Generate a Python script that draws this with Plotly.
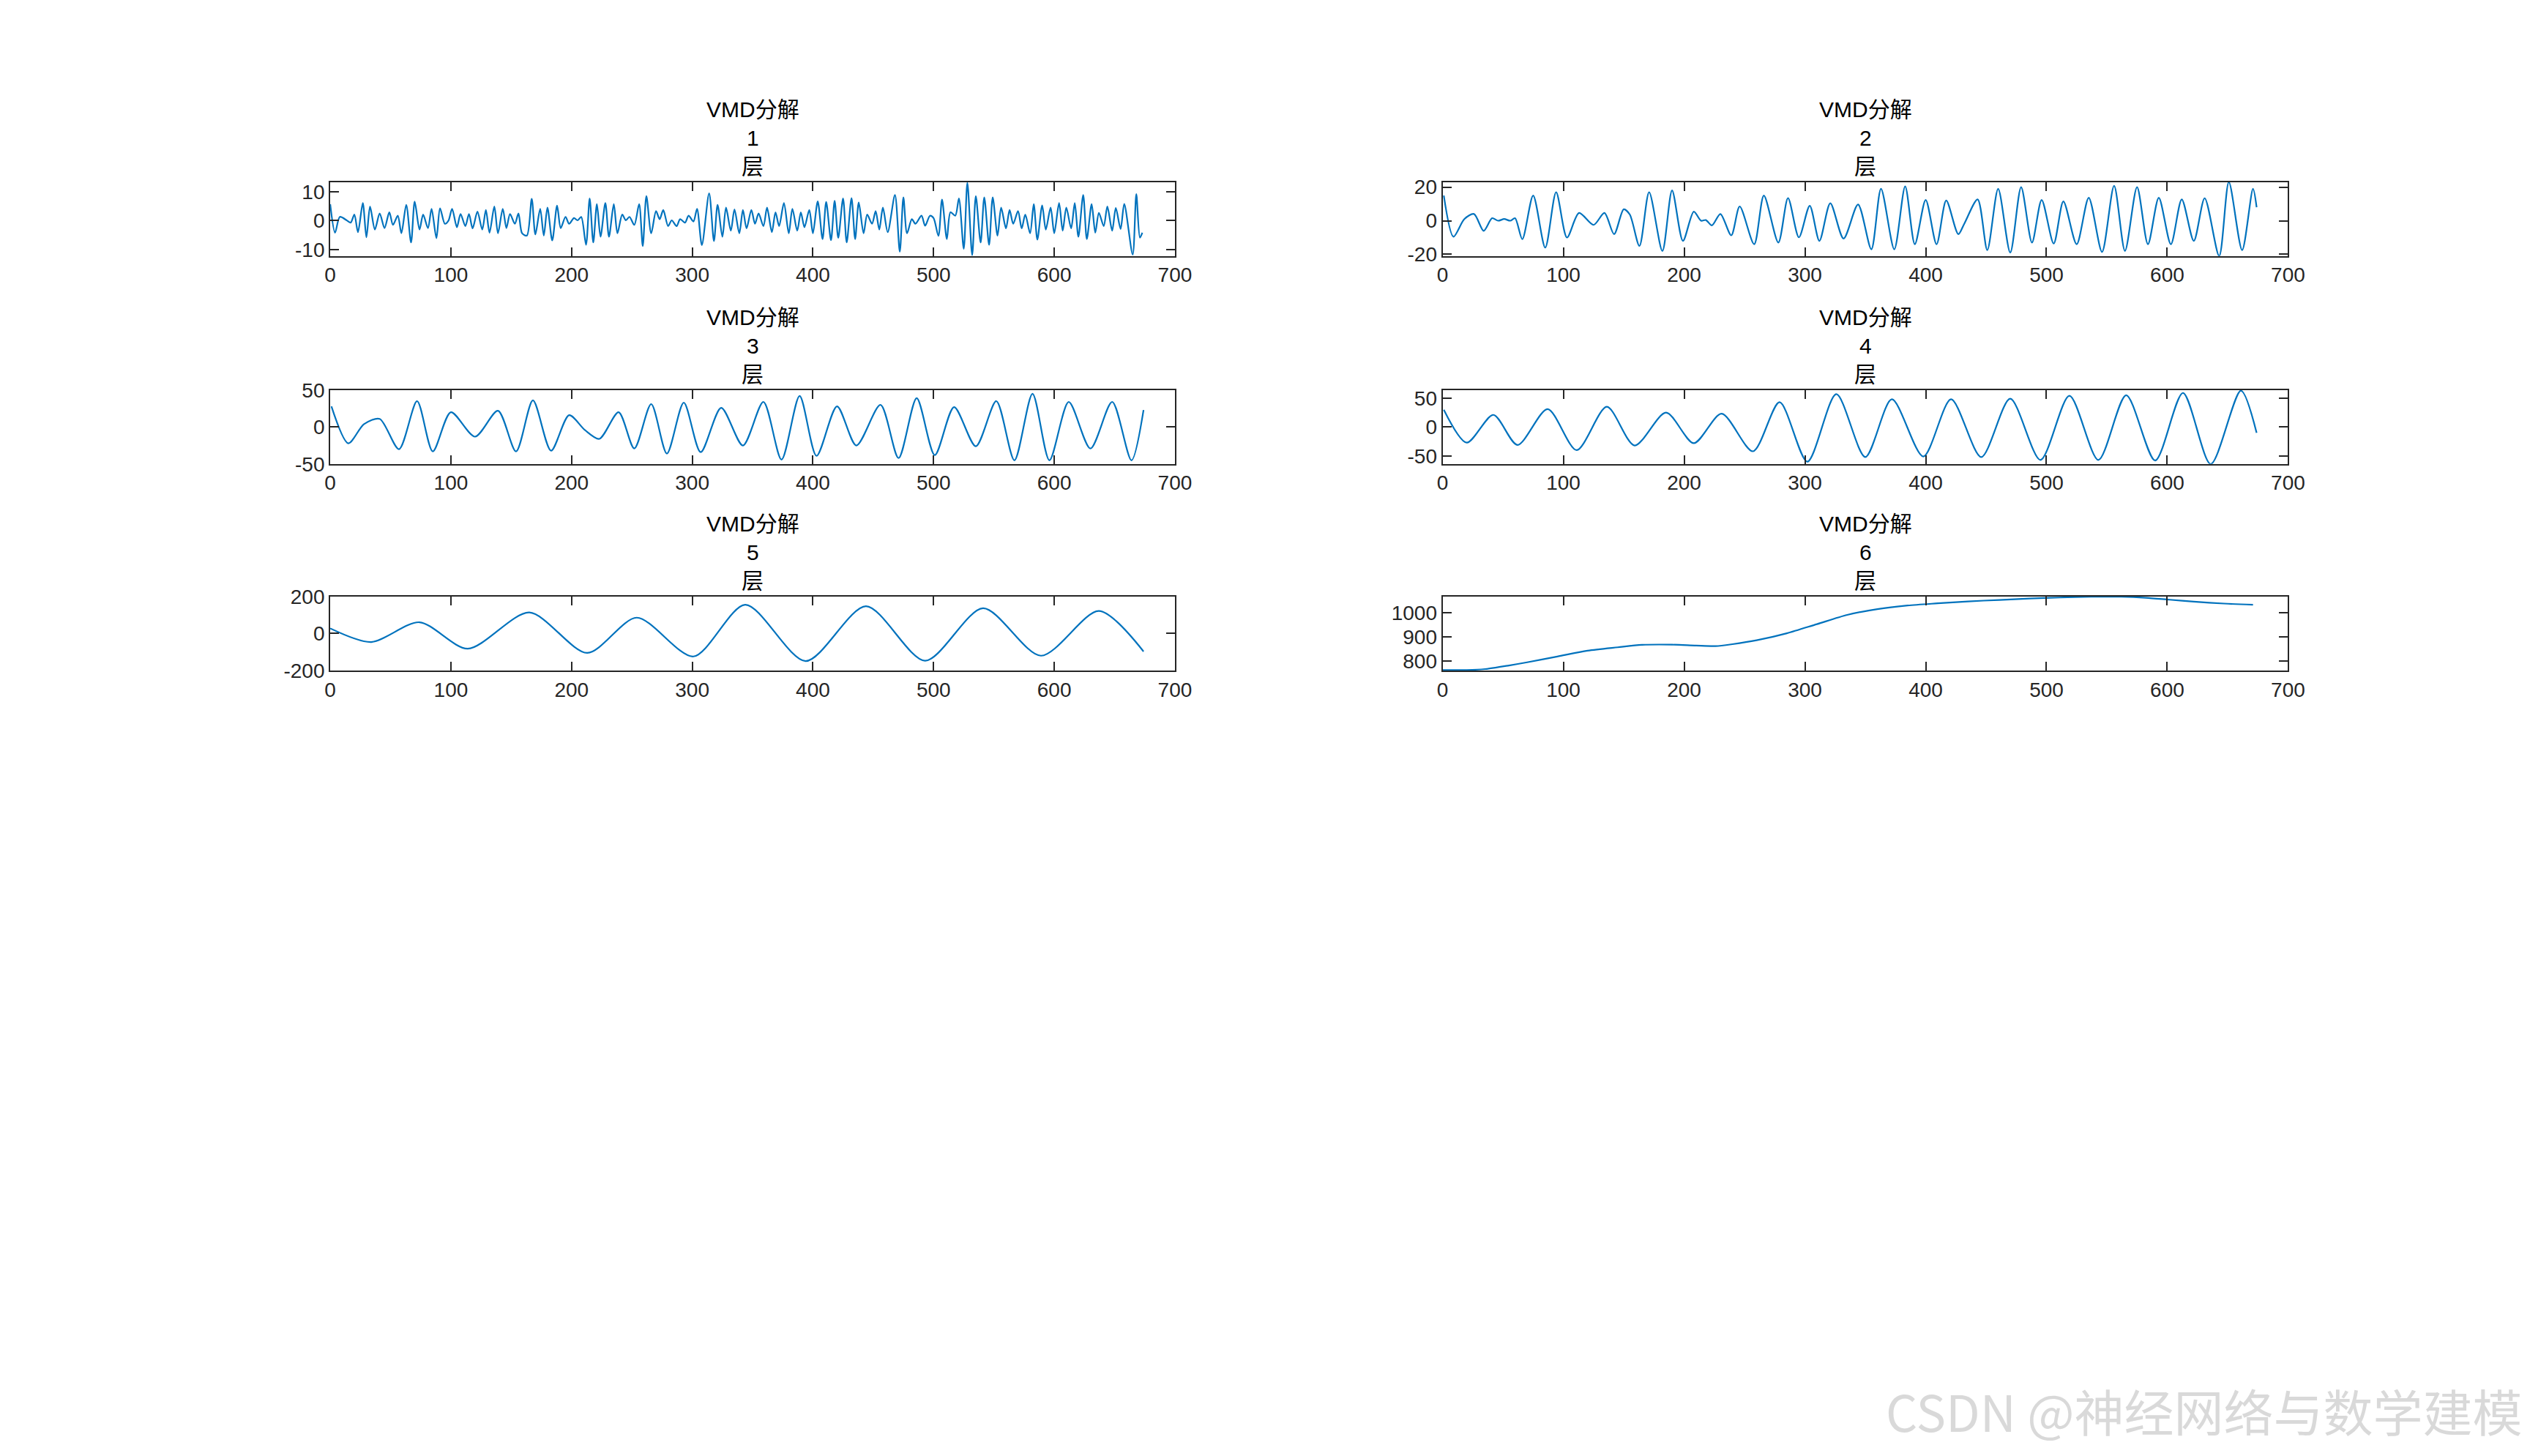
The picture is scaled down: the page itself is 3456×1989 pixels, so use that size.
import plotly.graph_objects as go
from plotly.subplots import make_subplots

# ---- data (extrema / key points) ----
imf1_x = [0,4,8,14,17,20,23,27,30,33,37,41,45,49,52,56,59,63,67,70,74,77,81,84,88,91,95,98,101,105,108,112,115,118,122,126,129,132,136,139,143,146,149,153,156,159,163,167,170,174,177,180,184,188,191,195,198,202,205,208,212,215,218,221,224,228,231,235,238,242,245,248,252,256,259,262,266,270,273,276,280,283,287,290,294,297,301,304,308,314,318,321,325,328,332,335,339,342,345,349,352,355,359,362,366,369,372,376,380,383,387,390,393,397,400,404,408,411,415,418,421,425,428,432,435,438,442,445,449,452,455,458,462,468,472,475,478,482,485,490,493,497,500,504,507,511,514,518,521,525,528,532,535,539,542,546,549,553,556,560,563,566,570,573,576,580,583,586,590,593,597,600,604,607,610,614,617,620,624,627,631,634,637,641,644,648,651,655,658,665,668,671,673]
imf1_y = [5.7,-4.2,1.3,0,-0.7,2.1,-4,6.1,-5.8,4.9,-3.1,2.5,-2.6,2.9,-1.5,1.7,-4.4,5.5,-7.6,6.6,-3.1,2.1,-2.6,4.1,-6.1,4.3,-1.1,0,4.1,-2.3,2.3,-1.9,2.3,-2.7,3.1,-3.1,3.7,-4.2,4.9,-4.4,4.1,-2.6,2.3,-1.1,2.5,-4.4,-5.2,7.6,-4.8,4.1,-5.2,4.5,-6.9,5.2,-2.6,1.3,-1.1,0.9,0.1,1.3,-8.4,7.7,-7.6,5.7,-5.6,6.1,-5.6,5.7,-4.4,2.1,0.1,1.3,-1.5,5.7,-8.8,8.5,-4.4,3.3,0.5,3.7,-1.9,0.1,-1.9,0.5,-0.7,1.7,-0.3,4.1,-8.5,9.5,-7.1,5.5,-5.6,4.5,-3.5,3.9,-4.4,3.7,-2.7,3.7,-1.1,2.5,-1.9,4.5,-4.0,2.9,-1.9,6.1,-4.4,4.1,-3.5,2.9,-2.3,3.7,-4.4,6.7,-6.4,6.5,-6.8,6.9,-6.0,7.7,-7.6,7.8,-6.4,6.3,-4.4,2.1,-1.1,3.3,-3.1,4.5,-4.0,8.9,-10.8,8.1,-4.4,0.5,-1.1,1.7,-1.8,1.7,0.9,-5.3,7.3,-6.4,2.9,1.7,7.7,-9.8,13.2,-12,8.5,-7.6,8.1,-8.4,8.1,-5.2,4.5,-2.7,3.7,-1.1,3.3,-2.7,2.1,-4.4,5.7,-6.6,5.3,-3.1,4.5,-4.4,6.1,-3.5,4.5,-2.7,6.1,-5.6,8.9,-6.4,5.7,-4.2,2.7,-1.9,4.9,-3.5,4.4,-2.9,5.8,-11.8,9.2,-5.9,-4.2]

imf2_x = [1,9,18,26,34,41,46,51,56,60,66,75,85,94,103,113,125,134,142,150,155,163,171,182,190,199,208,214,218,223,230,239,246,258,266,278,286,295,304,312,321,332,344,355,363,374,383,391,400,409,417,427,432,443,451,460,470,479,488,496,506,514,525,535,546,556,565,575,584,593,603,612,622,631,643,651,662,671,674]
imf2_y = [15,-9.5,1,4,-6,1.5,0,1,0,1.5,-11,15,-16,17,-10,4.6,-2.5,4.6,-8,6.8,3.7,-15,17,-18,18,-12,5.4,0,0.4,-2.8,4,-8.7,8.5,-14,15,-13,13.5,-9.9,8.9,-12,10.4,-10.6,9.6,-17,19,-17,20.4,-14,12.4,-14,12,-8,-1.7,12.7,-17.5,19,-19,20,-13,12.4,-13.6,11.5,-14,13.7,-18.6,20.8,-18,20,-14,13.7,-14,12.7,-12,13.4,-21,23,-17.5,19,8]

imf3_x = [1,15,28,41,57,72,85,100,120,139,154,168,183,198,211,223,239,252,266,279,293,307,324,342,359,374,389,403,420,436,456,471,486,501,517,535,552,567,582,596,612,630,648,664,674]
imf3_y = [28,-22,4,11,-30,35,-33,20,-13,22,-33,36,-32,16,-4,-16,20,-29,31,-36,33,-34,26,-25,34,-44,42,-39,28,-25,30,-42,39,-38,27,-26,35,-45,45,-45,34,-29,34,-45,23]

imf4_x = [1,20,42,62,87,111,136,159,185,208,231,257,279,302,326,350,372,398,421,446,470,495,519,543,566,590,613,636,661,674]
imf4_y = [30,-27,21,-31,31,-40,35,-32,25,-28,23,-42,43,-60,57,-52,48,-51,48,-52,49,-57,54,-57,55,-58,59,-64,63,-10]

imf5_x = [0,34,74,114,165,213,254,301,344,394,444,493,541,589,637,674]
imf5_y = [28,-46,61,-82,114,-105,86,-124,156,-149,148,-147,137,-120,122,-97]

imf6_x = [0,20,35,55,70,95,120,145,165,190,210,226,240,260,285,310,335,360,385,410,435,461,486,511,537,562,582,602,622,647,671]
imf6_y = [764,764,768,783,796,820,844,858,868,869,865,863,871,887,916,954,992,1016,1031,1040,1048,1054,1060,1064,1067,1067,1063,1055,1047,1039,1034]

layer_labels = ["1", "2", "3", "4", "5", "6"]
series = [(imf1_x, imf1_y), (imf2_x, imf2_y), (imf3_x, imf3_y),
          (imf4_x, imf4_y), (imf5_x, imf5_y), (imf6_x, imf6_y)]
y_ranges = [[-12.3, 13.4], [-21, 23], [-50, 50], [-64, 64], [-200, 200], [762, 1068]]
y_ticks = [[-10, 0, 10], [-20, 0, 20], [-50, 0, 50], [-50, 0, 50], [-200, 0, 200], [800, 900, 1000]]
x_ticks = [0, 100, 200, 300, 400, 500, 600, 700]

W, H = 3456, 1989


def fx(px):
    return (px - 14.5) / 0.992 / W


def fy(py):
    return 1 - (py - 21.4) / 0.984 / H


col_px = [(450, 1605), (1971, 3127)]
row_top_px = [247, 531, 813]
ax_h = 101

fig = make_subplots(rows=3, cols=2)
font = "Liberation Sans, Arial, sans-serif"
annotations = []
for i, (xs, ys) in enumerate(series):
    r, c = i // 2, i % 2
    fig.add_trace(go.Scatter(x=xs, y=ys, mode="lines",
                             line=dict(color="#0072BD", width=2.2, shape="spline", smoothing=0.8),
                             showlegend=False), row=r + 1, col=c + 1)
    x0, x1 = col_px[c]
    top = row_top_px[r]
    bot = top + ax_h
    idx = "" if i == 0 else str(i + 1)
    common = dict(showline=True, linecolor="#262626", linewidth=2, mirror="allticks",
                  ticks="inside", ticklen=12, tickwidth=2, tickcolor="#262626",
                  showgrid=False, zeroline=False,
                  tickfont=dict(family=font, size=28, color="#262626"))
    fig.layout["xaxis" + idx].update(domain=[fx(x0), fx(x1)], range=[0, 700],
                                     tickvals=x_ticks, **common)
    fig.layout["yaxis" + idx].update(domain=[fy(bot), fy(top)], range=y_ranges[i],
                                     tickvals=y_ticks[i], ticktext=[str(v) for v in y_ticks[i]], **common)
    cx = (fx(x0) + fx(x1)) / 2
    for txt, off in [("VMD分解", 99), (layer_labels[i], 60), ("层", 21)]:
        annotations.append(dict(text=txt, x=cx, y=fy(top - off), xref="paper", yref="paper",
                                showarrow=False, xanchor="center", yanchor="middle",
                                font=dict(family=font + ", Noto Sans CJK SC", size=30, color="#000000")))

annotations.append(dict(text="CSDN @神经网络与数学建模", x=fx(3450), y=fy(1924), xref="paper", yref="paper",
                        showarrow=False, xanchor="right", yanchor="middle",
                        font=dict(family="Noto Sans CJK SC", size=68, color="#d9d9d9")))

fig.update_layout(width=W, height=H, margin=dict(l=0, r=0, t=0, b=0),
                  paper_bgcolor="white", plot_bgcolor="white", annotations=annotations)
fig.write_html("out.html")
